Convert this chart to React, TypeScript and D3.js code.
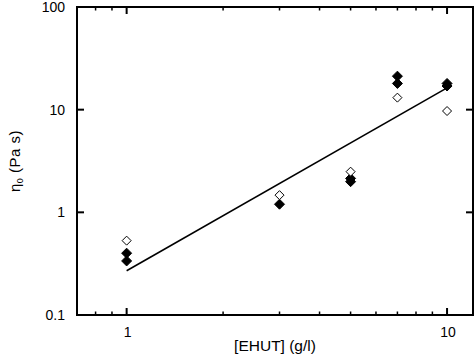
import React from "react";
import * as d3 from "d3";

const concOpen = [1, 3, 5, 7, 10];
const etaOpen = [0.53, 1.47, 2.49, 13.1, 9.7];
const concFilled = [1, 1, 3, 5, 5, 7, 7, 10, 10];
const etaFilled = [0.4, 0.336, 1.2, 2.14, 1.99, 21.2, 18.0, 18.0, 17.0];
const fitX = [1, 10];
const fitY = [0.27, 16.3];
const xTickLabels = [1, 10];
const yTickLabels = ["0.1", "1", "10", "100"];
const yTickValues = [0.1, 1, 10, 100];

const W = 474;
const H = 355;
const L = 77, R = 473, T = 7, B = 315;

export default function App() {
  const x = d3.scaleLog().domain([0.7, 12.05]).range([L, R]);
  const y = d3.scaleLog().domain([0.1, 100]).range([B, T]);
  const minorX = [0.8, 0.9, 2, 3, 4, 5, 6, 7, 8, 9];
  const majorX = [1, 10];
  const majorY = [1, 10];
  const line = d3.line<[number, number]>().x(d => x(d[0])).y(d => y(d[1]));
  const fitPts: [number, number][] = fitX.map((v, i) => [v, fitY[i]]);
  const diamond = (cx: number, cy: number, r: number) =>
    `M${cx},${cy - r}L${cx + r},${cy}L${cx},${cy + r}L${cx - r},${cy}Z`;
  const font = "'Liberation Sans', Arial, Helvetica, sans-serif";
  return (
    <div style={{ position: "fixed", left: 0, top: 0 }}>
      <svg width={W} height={H} style={{ display: "block", background: "#fff" }}>
        <rect x={L} y={T} width={R - L} height={B - T} fill="none" stroke="#000" strokeWidth={2} />
        {majorX.map(v => (
          <g key={"mx" + v}>
            <line x1={x(v)} x2={x(v)} y1={B} y2={B - 7} stroke="#000" strokeWidth={2} />
            <line x1={x(v)} x2={x(v)} y1={T} y2={T + 7} stroke="#000" strokeWidth={2} />
          </g>
        ))}
        {minorX.map(v => (
          <g key={"nx" + v}>
            <line x1={x(v)} x2={x(v)} y1={B} y2={B - 3.5} stroke="#000" strokeWidth={1.5} />
            <line x1={x(v)} x2={x(v)} y1={T} y2={T + 3.5} stroke="#000" strokeWidth={1.5} />
          </g>
        ))}
        {majorY.map(v => (
          <g key={"my" + v}>
            <line x1={L} x2={L + 7} y1={y(v)} y2={y(v)} stroke="#000" strokeWidth={2} />
            <line x1={R} x2={R - 7} y1={y(v)} y2={y(v)} stroke="#000" strokeWidth={2} />
          </g>
        ))}
        {yTickValues.map((v, i) => (
          <text key={"yl" + v} x={65} y={y(v)} dy="0.36em" textAnchor="end" fontFamily={font} fontSize={14}>
            {yTickLabels[i]}
          </text>
        ))}
        {xTickLabels.map(v => (
          <text key={"xl" + v} x={x(v) + 1} y={337} textAnchor="middle" fontFamily={font} fontSize={14}>
            {String(v)}
          </text>
        ))}
        <text x={275} y={351} textAnchor="middle" fontFamily={font} fontSize={15.5}>[EHUT] (g/l)</text>
        <text transform={`translate(20,${(T + B) / 2}) rotate(-90)`} textAnchor="middle" fontFamily={font} fontSize={15} letterSpacing={0.5}>
          η<tspan fontSize={9} dy={3}>0</tspan><tspan dy={-3}> (Pa s)</tspan>
        </text>
        <path d={line(fitPts) || ""} fill="none" stroke="#000" strokeWidth={1.6} />
        {concFilled.map((c, i) => (
          <path key={"f" + i} d={diamond(x(c), y(etaFilled[i]), 5)} fill="#000" stroke="#000" strokeWidth={1} />
        ))}
        {concOpen.map((c, i) => (
          <path key={"o" + i} d={diamond(x(c), y(etaOpen[i]), 4.5)} fill="#fff" stroke="#000" strokeWidth={1} />
        ))}
      </svg>
    </div>
  );
}
